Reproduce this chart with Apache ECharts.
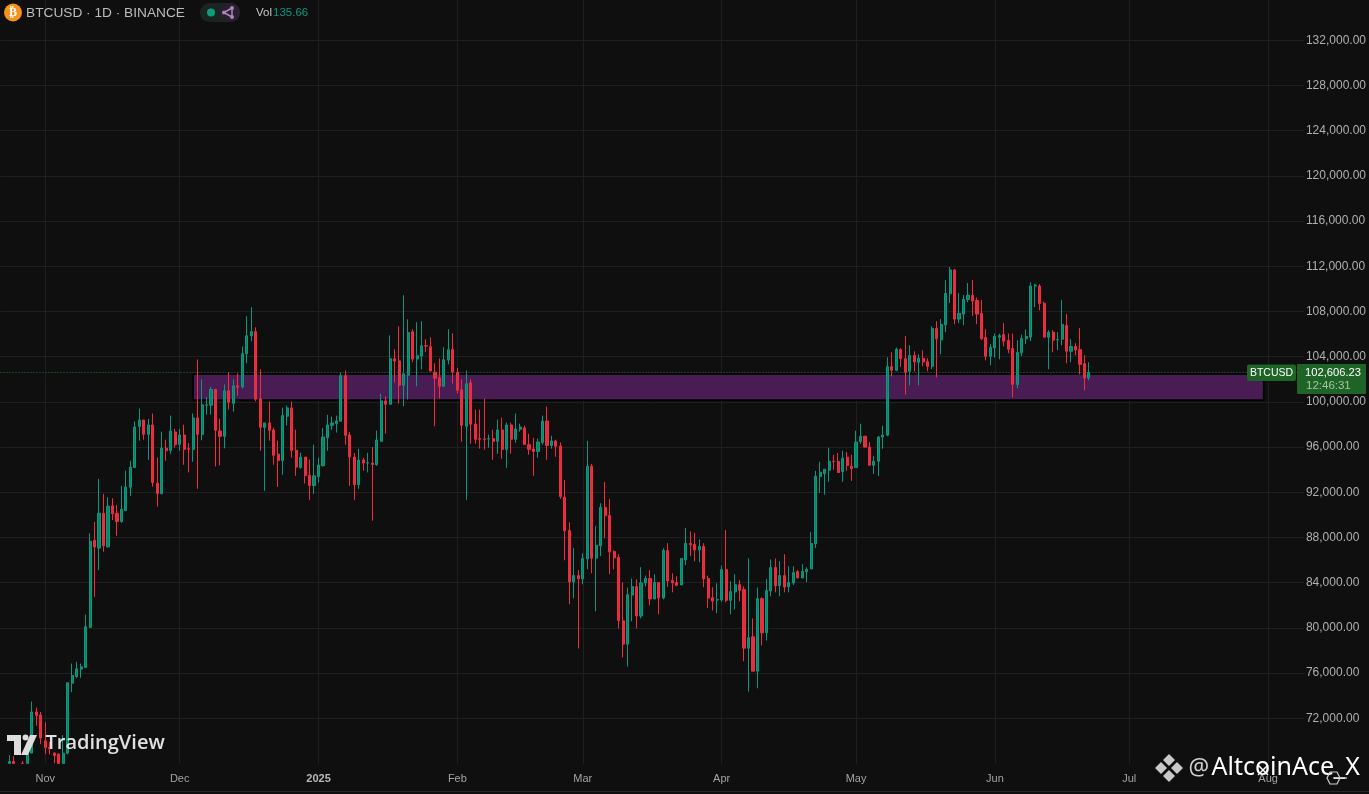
<!DOCTYPE html>
<html><head><meta charset="utf-8">
<style>html,body{margin:0;padding:0;background:#0f0f0f;overflow:hidden}#c{position:absolute;left:0;top:-5px;width:1369px;height:799px}</style>
<script src="https://cdn.jsdelivr.net/npm/echarts@6/dist/echarts.min.js"></script>
</head><body><div id="c"></div>
<script>
const firstDay = '2024-10-22';
const dayCount = 292;
const monthTicks = {'2024-11-01':'Nov','2024-12-01':'Dec','2025-01-01':'{b|2025}','2025-02-01':'Feb','2025-03-01':'Mar','2025-04-01':'Apr','2025-05-01':'May','2025-06-01':'Jun','2025-07-01':'Jul','2025-08-01':'Aug'};
const candleStart = '2024-10-24';
const lastPrice = 102606.23;
const zoneTop = 102470, zoneBottom = 100170, zoneFrom = '2024-12-04', zoneTo = '2025-07-31';

const opens = [68000,68170,null,68000,68000,68910,72550,72290,
70000,69400,68910,68820,68000,68910,75100,75690,76340,76490,
80040,87740,87060,90140,87170,90790,90140,89400,90370,92440,
94190,97830,98390,97120,97950,92800,91880,95900,95700,97330,
96230,97060,95850,95790,98570,97120,99700,99700,101090,97420,
96940,100970,99870,101410,101320,104250,105850,106210,100260,97740,
98130,97510,95370,94810,98720,99460,95700,94190,95110,93510,
92590,93390,94340,96820,97920,98070,98280,102300,97060,95110,
92680,94840,94580,94580,94430,96500,100080,99780,103810,103630,
101470,102360,106210,103780,104050,104960,104880,102630,102120,101380,
103690,104610,102630,101060,97830,101680,98040,96740,96710,96710,
96740,96500,97510,95790,97950,96680,97570,97680,96200,95820,
95610,96410,98300,96140,96530,96080,91550,88620,84060,84620,
84330,86100,94300,86160,87260,90660,89950,86750,86220,80620,
78550,82900,83640,81040,83970,84360,82550,84000,82640,86840,
84180,84000,83790,86010,87460,87370,86900,87200,84360,82670,
82460,82460,85150,82430,83170,83820,83380,78200,79200,76160,
82580,79560,83260,85330,83730,84620,83640,83970,84980,84410,
84950,85210,87430,93380,93650,93950,94740,94740,93830,95100,
94300,94180,96490,96960,95990,94390,94740,96880,97050,103110,
102790,104620,103820,102700,104090,103500,103850,103560,103140,106490,
105480,106810,109560,111670,107320,107760,109060,109420,108970,107820,
105690,104030,104770,105720,105950,105420,104710,101540,104330,105570,
105720,110250,110250,108710,105720,106160,105480,105540,106750,104470,
104890,104620,103380,102110];
const closes = [68170,68000,null,68000,68910,72550,72230,70240,
69400,69300,68700,68000,68910,75130,75780,76370,76550,80100,
87650,87150,90140,87260,90760,90100,89400,90490,92440,94220,
97770,98390,97120,97950,92860,91880,95900,95670,97420,96200,
97060,95790,95790,98570,97120,99730,99730,101090,97480,96940,
100970,99960,101410,101290,104250,105850,106210,100230,97740,98130,
97480,95260,94810,98780,99460,95700,94220,95110,93480,92590,
93450,94400,96880,97950,98130,98300,102300,97030,95110,92680,
94840,94580,94600,94460,96620,100080,99780,103810,103600,101470,
102480,106120,103780,104080,104960,104930,102720,102090,101380,103720,
104610,102630,101030,97920,101590,98010,96680,96680,96680,96740,
96500,97510,95790,97950,96680,97590,97770,96230,95790,95610,
96440,98300,96140,96530,96060,91610,88590,84060,84620,84330,
86130,94300,86160,87290,90660,89920,86720,86190,80650,78550,
82930,83640,81040,83970,84360,82550,84000,82640,86840,84150,
83970,83760,86130,87460,87340,86900,87200,84330,82640,82370,
82490,85150,82430,83200,83820,83320,78200,79120,76160,82580,
79560,83290,85330,83700,84620,83620,84000,84890,84410,84980,
85150,87460,93410,93770,94030,94740,94710,93740,95010,94360,
94090,96430,96960,95990,94390,94740,96880,97050,103110,102790,
104650,103820,102610,104090,103530,103850,103530,103140,106490,105570,
106840,109590,111670,107320,107820,109060,109420,108910,107760,105600,
104030,104800,105780,105860,105360,104650,101540,104360,105600,105780,
110250,110330,108710,105720,106160,105450,105510,106840,104470,104890,
104590,103320,102110,102606];
const lows = [68000,68000,null,68000,68000,68900,71330,69700,
68820,68800,68000,68000,68000,68800,74300,75540,75570,76430,
79980,82730,85100,86730,87090,89540,88150,89300,90370,91670,
94190,96560,96650,94870,92500,90730,91790,94780,95400,95940,
95670,94430,93750,94690,92300,96590,98870,98870,94280,94370,
95880,99310,99130,100550,101180,103400,105350,100050,95670,92120,
96560,94430,92470,93540,97890,95050,93450,94070,92770,91320,
91850,92860,94280,95670,97530,97270,98280,96200,92560,91320,
92300,93890,93750,89480,94340,96500,97180,99780,101710,99840,
99610,100200,103510,101380,102860,104400,102720,97830,100290,101380,
103310,101620,100730,96470,91320,96290,96290,95850,95760,95940,
94870,95400,94960,94160,95400,96380,97360,96230,95320,93450,
95050,96200,94870,95850,95140,91430,85980,82080,82610,78170,
83850,85180,84830,81450,86340,87910,84740,85180,79940,77370,
76570,80570,79940,80830,83670,81990,82550,81190,82520,83620,
83140,83670,83790,85540,86340,85890,85810,83590,81750,81540,
81310,82310,82250,81190,81630,82340,77040,74350,76160,74650,
78440,78880,82790,83140,82790,83140,83140,83790,84410,84410,
84030,85210,87050,91930,91780,92910,93980,93740,92910,93890,
93000,94180,96280,95990,94390,93620,93440,95840,96950,102250,
102700,103080,100650,101450,102700,101450,103140,102700,102900,102160,
104210,106160,108740,106870,106960,106780,108830,107580,106870,105450,
103670,103230,103910,103760,104920,104300,100390,101190,104030,105100,
105360,108380,108110,105720,102880,104380,104560,105010,103410,103500,
104120,102430,101010,101900];
const highs = [68730,68640,null,68230,68910,73470,72930,72550,
71630,69900,69000,68900,70500,75200,76840,76990,76840,81170,
88360,89370,93180,91850,91560,91470,90880,92560,93900,94780,
98250,99400,98390,98480,98960,95080,97360,96650,98780,97600,
97600,97980,96350,98960,103750,101980,100400,101320,101150,98510,
101530,102630,101980,102510,104900,107570,108370,106590,102860,98130,
100020,97710,96560,99490,99670,100020,97530,95490,95110,94870,
96200,95050,97680,98840,98690,98780,102570,102770,97330,95460,
95850,95050,95490,96000,97450,100700,100470,105880,104640,106680,
109430,107300,106420,107040,107130,105530,105710,103400,103840,104820,
106420,106060,103010,101980,102770,101980,99310,99310,100290,97090,
97530,98420,98600,98160,98160,98960,98070,97890,97180,96820,
96740,98780,99580,97000,96650,96400,93090,89330,87050,85100,
86580,96550,94510,89000,91020,92910,91400,86870,86520,84030,
83560,84360,84300,85360,84620,85100,84740,84030,87050,87490,
84830,84560,86130,88820,88530,88380,87820,87490,84620,83590,
83940,85510,88650,84120,84740,84210,83670,86160,80830,83560,
82700,84300,86040,86130,85890,86520,85450,85450,85100,85630,
85360,88470,93890,94690,94030,95930,95310,95480,95660,95570,
95310,97440,98060,96960,96430,95220,96960,97880,103940,104380,
104800,104740,105810,105010,104470,104210,104560,103850,106690,107140,
107320,110780,111930,111760,109620,109450,110510,110780,109240,109000,
106430,105100,106040,106040,106960,106040,106040,105450,105950,106400,
110570,110450,110420,108880,106340,106340,106160,109000,107760,105540,
105180,106520,104120,103500];

const iso = d => d.toISOString().slice(0,10);
const categories = [];
for (let i=0, t=Date.parse(firstDay+'T00:00:00Z'); i<dayCount; i++, t+=86400000) categories.push(iso(new Date(t)));
const startAt = categories.indexOf(candleStart);
const candleData = categories.map((_,i)=>{
  const k=i-startAt;
  return (k>=0 && k<opens.length && opens[k]!==null) ? [opens[k],closes[k],lows[k],highs[k]] : ['-','-','-','-'];
});
const isTick = (i,v)=>monthTicks[v]!==undefined;
const UI = '"Liberation Sans", Arial, sans-serif';
const GRID = '#1f1f1f';
const el = echarts.init(document.getElementById('c'),null,{renderer:'canvas'});
const txt = (x,y,text,fill,size,extra)=>({type:'text',x,y,silent:true,z:100,style:Object.assign({text,fill,font:`${size}px ${UI}`,textVerticalAlign:'middle'},extra||{})});
const rect = (x,y,w,h,fill,r)=>({type:'rect',silent:true,z:90,shape:{x,y,width:w,height:h,r:r||0},style:{fill}});
const poly = (pts,fill)=>({type:'polygon',silent:true,z:100,shape:{points:pts},style:{fill}});
const ln = (x1,y1,x2,y2,stroke,w)=>({type:'line',silent:true,z:101,shape:{x1,y1,x2,y2},style:{stroke,lineWidth:w||1}});
const dot = (cx,cy,r,fill)=>({type:'circle',silent:true,z:102,shape:{cx,cy,r},style:{fill}});

el.setOption({
  animation:false,
  backgroundColor:'#0f0f0f',
  grid:{left:0.5,width:1304,top:0,height:768.4,containLabel:false,show:false},
  xAxis:{type:'category',data:categories,boundaryGap:false,
    axisLine:{show:false},axisTick:{show:false},
    axisLabel:{show:true,interval:isTick,formatter:v=>monthTicks[v]||'',margin:10,color:'#a3a3a3',fontSize:11,fontFamily:UI,
      rich:{b:{fontWeight:'bold',color:'#b8b8b8',fontSize:11,fontFamily:UI}}},
    splitLine:{show:true,interval:isTick,lineStyle:{color:GRID,width:1}}},
  yAxis:{type:'value',position:'right',min:68000,max:136000,interval:4000,scale:true,
    axisLine:{show:false},axisTick:{show:false},
    axisLabel:{showMinLabel:false,showMaxLabel:false,margin:2,color:'#b0b0b0',fontSize:12,fontFamily:UI,padding:[0,0,3,0],
      formatter:v=>v.toLocaleString('en-US',{minimumFractionDigits:2,maximumFractionDigits:2})},
    splitLine:{show:true,showMinLine:false,showMaxLine:false,lineStyle:{color:GRID,width:1}}},
  series:[
    {type:'line',data:[],z:1,silent:true,
      markArea:{silent:true,z:1,itemStyle:{color:'#4a1c54',borderColor:'#000',borderWidth:1.5},
        data:[[{xAxis:zoneFrom,yAxis:zoneTop},{xAxis:zoneTo,yAxis:zoneBottom}]]}},
    {type:'candlestick',z:3,data:candleData,barWidth:2.6,clip:true,silent:true,
      itemStyle:{color:'#0b8568',color0:'#d9333f',borderColor:'#089981',borderColor0:'#f7293f',borderWidth:1},
      markLine:{silent:true,symbol:'none',z:4,label:{show:false},
        lineStyle:{color:'#1a7a2e',type:[1,2],width:1},data:[{yAxis:lastPrice}]}}
  ],
  graphic:{elements:[{type:'group',x:0,y:5,silent:true,children:[
    // header
    {type:'circle',silent:true,z:100,shape:{cx:13,cy:12.5,r:9},style:{fill:'#f7931a'}},
    txt(13,12.5,'₿','#ffffff',12,{textAlign:'center',font:`bold 12px "DejaVu Sans"`}),
    txt(26,13,'BTCUSD · 1D · BINANCE','#bdbdbd',13.7),
    rect(200,3,40,19,'#1c2422',9.5),
    rect(220,3,20,19,'#2a1f2e',9.5),
    dot(211,12.5,4,'#0f9d7f'),
    ln(224,12.5,232,8,'#a987b8',1.5),ln(224,12.5,232,17,'#a987b8',1.5),ln(232,8,232,17,'#a987b8',1.5),
    dot(224,12.5,2,'#a987b8'),dot(232,8,2,'#a987b8'),dot(232,17,2,'#a987b8'),
    txt(256,13,'Vol','#c8c8c8',11.5),
    txt(273,13,'135.66','#089981',11.5),
    // TradingView mark
    poly([[7,735],[21,735],[21,755],[14,755],[14,741],[7,741]],'#dedede'),
    poly([[30,735],[37,735],[28,755],[21,755]],'#dedede'),
    dot(25.5,737.5,3,'#dedede'),
    txt(45.5,743.5,'TradingView','#e0e0e0',20,{font:`600 20px "Open Sans", ${UI}`}),
    // price badge
    rect(1247,364.5,49,16.5,'#1e6426',2),
    txt(1271.5,373,'BTCUSD','#ffffff',10.5,{textAlign:'center'}),
    rect(1297,364,69,30,'#1e6426',1),
    txt(1361,372.5,'102,606.23','#ffffff',11.2,{textAlign:'right'}),
    txt(1306,386,'12:46:31','#a8c4ab',11.5),
    // watermark
    poly([[1169,754],[1175,760],[1169,766],[1163,760]],'#c9c9c9'),
    poly([[1169,770],[1175,776],[1169,782],[1163,776]],'#c9c9c9'),
    poly([[1161,762],[1167,768],[1161,774],[1155,768]],'#c9c9c9'),
    poly([[1177,762],[1183,768],[1177,774],[1171,768]],'#c9c9c9'),
    txt(1188.5,768,'@','#d0d0d0',23,{font:`23px "Noto Sans"`}),
    txt(1211.5,768,'AltcoinAce_X','#ffffff',25,{font:`25px "Noto Sans"`}),
    ln(1258,765,1268,775,'#ffffff',1.5),ln(1268,765,1258,775,'#ffffff',1.5),
    {type:'polygon',silent:true,z:101,shape:{points:[[1330,772],[1337,772],[1340,778],[1337,784],[1330,784],[1327,778]]},style:{fill:'none',stroke:'#cfcfcf',lineWidth:1.2}},
    ln(1333,778,1347,778,'#cfcfcf',1.2),
    // frame
    ln(0,791.5,1369,791.5,'#2a2a2a',1)
  ]}]}
});
</script></body></html>
